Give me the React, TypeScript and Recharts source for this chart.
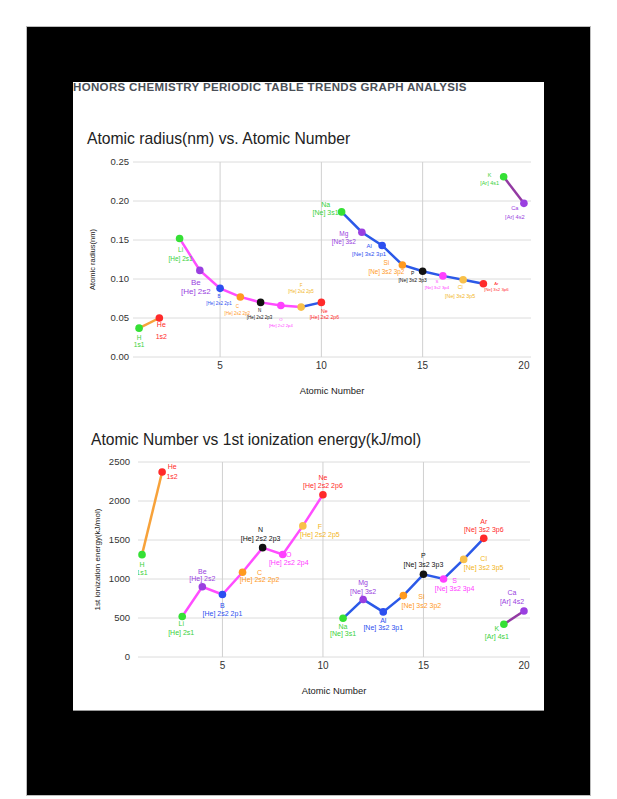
import React from "react";
import {
  CartesianGrid,
  ComposedChart,
  Line,
  ReferenceLine,
  Scatter,
  XAxis,
  YAxis,
} from "recharts";

// element data
const atomicNumbers = [1, 2, 3, 4, 5, 6, 7, 8, 9, 10, 11, 12, 13, 14, 15, 16, 17, 18, 19, 20];
const symbols = ["H", "He", "Li", "Be", "B", "C", "N", "O", "F", "Ne", "Na", "Mg", "Al", "Si", "P", "S", "Cl", "Ar", "K", "Ca"];
const configs = [
  "1s1", "1s2", "[He] 2s1", "[He] 2s2", "[He] 2s2 2p1", "[He] 2s2 2p2", "[He] 2s2 2p3",
  "[He] 2s2 2p4", "[He] 2s2 2p5", "[He] 2s2 2p6", "[Ne] 3s1", "[Ne] 3s2", "[Ne] 3s2 3p1",
  "[Ne] 3s2 3p2", "[Ne] 3s2 3p3", "[Ne] 3s2 3p4", "[Ne] 3s2 3p5", "[Ne] 3s2 3p6", "[Ar] 4s1", "[Ar] 4s2",
];
const atomicRadii = [0.037, 0.05, 0.152, 0.111, 0.088, 0.077, 0.07, 0.066, 0.064, 0.07, 0.186, 0.16, 0.143, 0.118, 0.11, 0.104, 0.099, 0.094, 0.231, 0.197];
const ionizationEnergies = [1312, 2372, 520, 900, 801, 1086, 1402, 1314, 1681, 2081, 496, 738, 578, 787, 1060, 1000, 1251, 1521, 419, 590];

const xTicks = [5, 10, 15, 20];
const gridX = [5, 10, 15];
const radiusTicks = [0, 0.05, 0.1, 0.15, 0.2, 0.25];
const energyTicks = [0, 500, 1000, 1500, 2000, 2500];

// line segments: [first Z, last Z, colour]
const radiusSegments: [number, number, string][] = [
  [1, 2, "#f7a23a"],
  [3, 9, "#ff4dff"],
  [9, 10, "#2b59e8"],
  [11, 18, "#2b59e8"],
  [19, 20, "#933aa3"],
];
const energySegments: [number, number, string][] = [
  [1, 2, "#f7a23a"],
  [3, 10, "#ff4dff"],
  [11, 18, "#2b59e8"],
  [19, 20, "#933aa3"],
];

// styling
const GREEN = "#35e035";
const RED = "#ff2a2a";
const PURPLE = "#9a3fe0";
const BLUE = "#2c4ff0";
const ORANGE = "#ff9a1f";
const BLACK = "#111111";
const MAGENTA = "#ff40ff";
const YELLOW = "#f8c04a";
const pointColors = [
  GREEN, RED, GREEN, PURPLE, BLUE, ORANGE, BLACK, MAGENTA, YELLOW, RED,
  GREEN, PURPLE, BLUE, ORANGE, BLACK, MAGENTA, YELLOW, RED, GREEN, PURPLE,
];
const labelColors = pointColors.map((c) => (c === YELLOW ? "#f2b51c" : c === GREEN ? "#3ad13a" : c));

// label placement [dx, dy symbol, dy config] relative to each point
const radiusLabelPos = [
  [0, 9, 16], [2, 6, 18], [1, 11, 20], [-4, 12, 21], [-1, 8, 15], [-3, 10, 17], [-1, 8, 15],
  [0, 14, 20], [0, -22, -16], [3, 9, 15], [-16, -7, 1], [-18, 1, 9], [-13, 1, 9], [-16, -2, 7],
  [-10, 2, 9], [-6, 6, 12], [-3, 7, 16], [13, 0, 6], [-14, -2, 6], [-9, 5, 14],
];
const radiusLabelSize = [6.5, 7, 6.5, 8, 4.5, 4.5, 4.5, 4.2, 4.5, 5.2, 7, 6.5, 6, 6.3, 5, 4.3, 5.3, 4.3, 5.5, 5.7];
const energyLabelPos = [
  [0, 10, 18], [10, -5, 5], [-1, 7, 16], [0, -15, -8], [0, 11, 19], [17, 0, 7], [-2, -18, -9],
  [6, 0, 8], [17, 1, 9], [0, -17, -9], [0, 8, 15], [0, -17, -8], [0, 9, 16], [18, 1, 10],
  [0, -19, -10], [11, 1, 9], [20, -1, 8], [0, -17, -9], [-7, 4, 12], [-12, -18, -9],
];
const energyLabelSize = atomicNumbers.map(() => 7);

const rows = atomicNumbers.map((z, i) => ({
  z,
  i,
  radius: atomicRadii[i],
  energy: ionizationEnergies[i],
}));

const FONT = '"Liberation Sans", Arial, sans-serif';

const makeDot = (pos: number[][], sizes: number[]) => (props: any) => {
  const { cx, cy, payload } = props;
  const i = payload.i;
  const [dx, d1, d2] = pos[i];
  const fs = sizes[i];
  return (
    <g>
      <circle cx={cx} cy={cy} r={3.8} fill={pointColors[i]} />
      <text x={cx + dx} y={cy + d1} fontSize={fs} fill={labelColors[i]} textAnchor="middle" dominantBaseline="central">
        {symbols[i]}
      </text>
      <text x={cx + dx} y={cy + d2} fontSize={fs} fill={labelColors[i]} textAnchor="middle" dominantBaseline="central">
        {configs[i]}
      </text>
    </g>
  );
};

type TrendProps = {
  top: number;
  dataKey: "radius" | "energy";
  segments: [number, number, string][];
  yTicks: number[];
  xDomain: [number, number];
  left: number;
  right: number;
  tickMargin: number;
  yLabel: string;
  yLabelSize: number;
  tickFormat: (v: number) => string;
  labelPos: number[][];
  labelSize: number[];
};

function TrendChart(p: TrendProps) {
  const W = 617;
  const yAxisWidth = 40;
  return (
    <div style={{ position: "absolute", left: 0, top: p.top, fontFamily: FONT }}>
      <ComposedChart
        width={W}
        height={320}
        data={rows}
        margin={{ top: 62, right: W - p.right, left: p.left - yAxisWidth, bottom: 33 }}
      >
        <CartesianGrid stroke="#dcdcdc" vertical={false} />
        {gridX.map((x) => (
          <ReferenceLine key={x} x={x} stroke="#d0d0d0" />
        ))}
        <XAxis
          type="number"
          dataKey="z"
          domain={p.xDomain}
          ticks={xTicks}
          allowDataOverflow
          axisLine={false}
          tickLine={false}
          tickSize={0}
          tickMargin={5}
          height={30}
          tick={{ fontSize: 10, fill: "#333" }}
          label={{ value: "Atomic Number", position: "insideBottom", offset: -7, fontSize: 9.4, fill: "#222" }}
        />
        <YAxis
          type="number"
          dataKey={p.dataKey}
          domain={[p.yTicks[0], p.yTicks[p.yTicks.length - 1]]}
          ticks={p.yTicks}
          width={yAxisWidth}
          axisLine={false}
          tickLine={false}
          tickSize={0}
          tickMargin={p.tickMargin}
          tickFormatter={p.tickFormat}
          tick={{ fontSize: 9.5, fill: "#333" }}
          label={{
            value: p.yLabel,
            angle: -90,
            position: "insideLeft",
            offset: -1,
            fontSize: p.yLabelSize,
            fill: "#222",
            style: { textAnchor: "middle" },
          }}
        />
        {p.segments.map(([a, b, color], k) => (
          <Line
            key={k}
            data={rows.filter((r) => r.z >= a && r.z <= b)}
            dataKey={p.dataKey}
            stroke={color}
            strokeWidth={2.5}
            dot={false}
            activeDot={false}
            isAnimationActive={false}
          />
        ))}
        <Scatter dataKey={p.dataKey} shape={makeDot(p.labelPos, p.labelSize)} isAnimationActive={false} />
      </ComposedChart>
    </div>
  );
}

export default function App() {
  return (
    <div
      style={{
        position: "absolute",
        left: 0,
        top: 0,
        width: 617,
        height: 799,
        background: "#fff",
        overflow: "hidden",
        fontFamily: FONT,
      }}
    >
      <div
        style={{
          position: "absolute",
          left: 27,
          top: 27,
          width: 563,
          height: 768,
          background: "#000",
          boxShadow: "0 0 0 1px #bdbdbd",
        }}
      />
      <div
        style={{
          position: "absolute",
          left: 73,
          top: 82,
          width: 471,
          height: 628,
          background: "#fff",
          borderBottom: "1px solid #999",
        }}
      />
      <div
        style={{
          position: "absolute",
          left: 73,
          top: 81,
          fontSize: 11.5,
          fontWeight: "bold",
          color: "#4a4f57",
          letterSpacing: 0.35,
          whiteSpace: "nowrap",
        }}
      >
        HONORS CHEMISTRY PERIODIC TABLE TRENDS GRAPH ANALYSIS
      </div>
      <div style={{ position: "absolute", left: 87, top: 130, fontSize: 15.7, color: "#222", whiteSpace: "nowrap" }}>
        Atomic radius(nm) vs. Atomic Number
      </div>
      <div style={{ position: "absolute", left: 91, top: 431, fontSize: 15.6, color: "#222", whiteSpace: "nowrap" }}>
        Atomic Number vs 1st ionization energy(kJ/mol)
      </div>
      <TrendChart
        top={100}
        dataKey="radius"
        segments={radiusSegments}
        yTicks={radiusTicks}
        xDomain={[0.7, 20.35]}
        left={133}
        right={531}
        tickMargin={4}
        yLabel="Atomic radius(nm)"
        yLabelSize={7.5}
        tickFormat={(v) => v.toFixed(2)}
        labelPos={radiusLabelPos}
        labelSize={radiusLabelSize}
      />
      <TrendChart
        top={400}
        dataKey="energy"
        segments={energySegments}
        yTicks={energyTicks}
        xDomain={[0.8, 20.3]}
        left={138}
        right={530}
        tickMargin={8}
        yLabel="1st ionization energy(kJ/mol)"
        yLabelSize={8}
        tickFormat={(v) => String(v)}
        labelPos={energyLabelPos}
        labelSize={energyLabelSize}
      />
    </div>
  );
}
